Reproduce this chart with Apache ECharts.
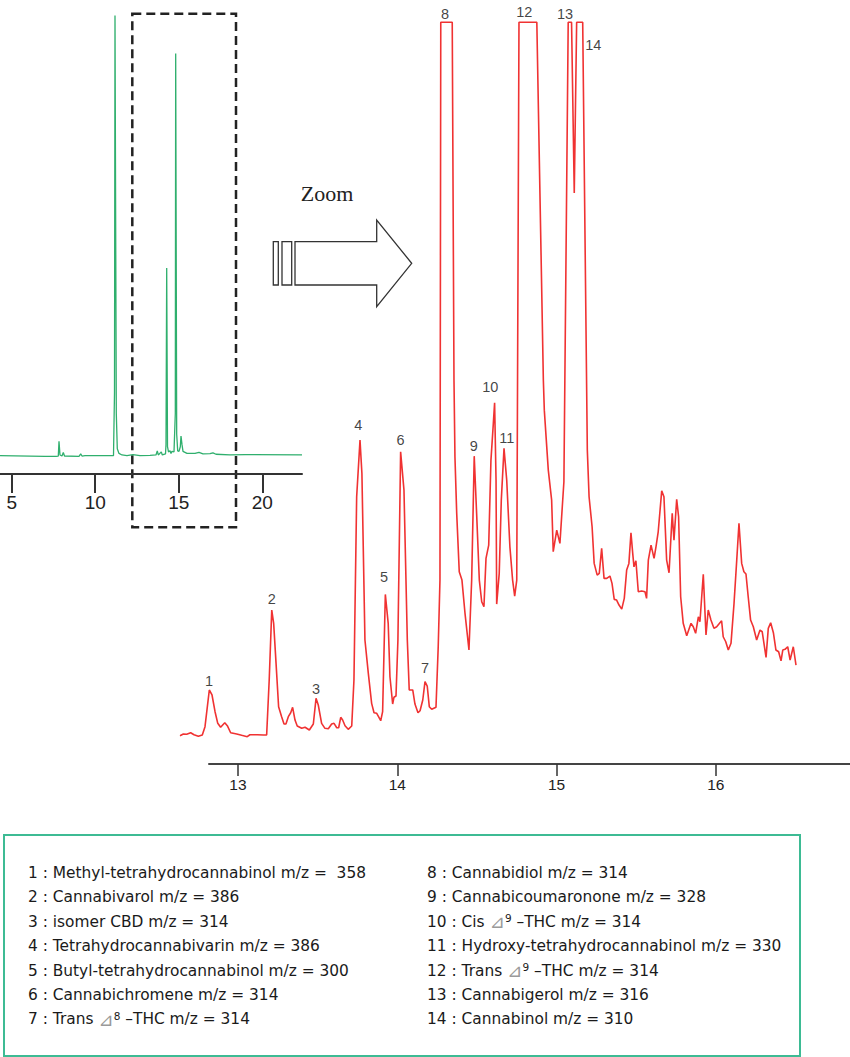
<!DOCTYPE html>
<html><head><meta charset="utf-8">
<script src="https://cdn.jsdelivr.net/npm/echarts@6/dist/echarts.min.js"></script>
<style>html,body{margin:0;padding:0;background:#fff}#c{width:850px;height:1057px}</style>
</head><body><div id="c"></div>
<script>
// ---- full chromatogram (inset, green) ----
const insetTime = [4.300,6.993,7.651,7.789,7.831,7.890,8.010,8.088,8.160,9.028,9.129,9.207,9.388,11.092,11.152,11.182,11.224,11.260,11.319,11.421,11.600,11.899,12.258,12.677,13.276,13.635,13.713,13.773,13.953,14.013,14.204,14.234,14.276,14.324,14.384,14.474,14.533,14.593,14.713,14.791,14.814,14.850,14.874,14.934,15.012,15.090,15.132,15.192,15.252,15.491,15.970,16.209,16.448,16.867,17.047,17.226,18.064,18.962,22.373];
const insetSignal = [3.97,3.83,3.83,3.90,7.13,4.13,3.90,4.65,3.90,3.83,4.35,3.90,3.97,3.97,17.66,100,100,13.15,5.48,4.47,4.13,3.97,4.20,3.97,4.06,4.13,5.03,4.13,4.80,4.13,4.35,6.38,44.89,5.93,4.80,5.03,4.47,4.92,4.80,13.15,91.72,91.72,8.64,5.03,4.92,5.93,8.26,6.38,4.92,4.47,4.47,4.69,4.35,4.42,4.58,4.29,4.13,4.20,4.13];
const insetTicks = [5, 10, 15, 20];

// ---- zoomed chromatogram (red) ----
const zoomTime = [12.636,12.657,12.678,12.703,12.724,12.751,12.776,12.793,12.820,12.837,12.856,12.873,12.891,12.917,12.933,12.954,12.992,13.023,13.058,13.075,13.121,13.159,13.180,13.196,13.212,13.224,13.239,13.255,13.274,13.289,13.301,13.316,13.331,13.343,13.358,13.372,13.400,13.421,13.448,13.473,13.490,13.504,13.525,13.546,13.567,13.588,13.603,13.620,13.632,13.645,13.657,13.672,13.692,13.714,13.728,13.745,13.766,13.778,13.797,13.818,13.839,13.854,13.871,13.896,13.908,13.925,13.943,13.954,13.971,13.979,13.992,14.004,14.021,14.042,14.063,14.075,14.097,14.111,14.130,14.143,14.160,14.174,14.188,14.201,14.216,14.243,14.257,14.268,14.273,14.345,14.356,14.362,14.373,14.389,14.406,14.425,14.450,14.467,14.483,14.498,14.515,14.530,14.544,14.557,14.574,14.588,14.603,14.611,14.620,14.624,14.640,14.653,14.670,14.687,14.707,14.724,14.737,14.750,14.764,14.876,14.917,14.923,14.948,14.969,14.979,15.001,15.021,15.046,15.073,15.094,15.111,15.126,15.164,15.193,15.204,15.223,15.236,15.255,15.268,15.283,15.298,15.315,15.335,15.348,15.362,15.377,15.392,15.409,15.425,15.440,15.454,15.467,15.478,15.486,15.498,15.513,15.534,15.555,15.565,15.576,15.593,15.612,15.624,15.638,15.660,15.674,15.691,15.706,15.726,15.737,15.754,15.766,15.779,15.795,15.817,15.844,15.858,15.873,15.890,15.900,15.921,15.938,15.952,15.969,15.988,16.005,16.036,16.046,16.062,16.078,16.095,16.114,16.131,16.145,16.162,16.176,16.189,16.203,16.218,16.235,16.256,16.277,16.291,16.315,16.329,16.344,16.361,16.377,16.394,16.409,16.420,16.434,16.451,16.466,16.486,16.503];
const zoomSignal = [4.33,4.56,4.52,4.73,4.46,4.25,4.42,5.54,10.46,9.79,7.55,5.99,5.46,6.07,5.67,4.73,4.56,4.38,4.20,4.46,4.46,4.42,4.42,11.80,21.18,19.40,14.03,8.22,6.88,5.90,5.90,6.88,7.41,8.14,6.43,5.63,5.32,5.46,5.09,5.90,9.34,8.45,5.99,5.32,5.27,5.90,5.99,5.40,5.40,6.80,6.43,5.67,5.19,5.63,11.80,36.37,43.97,39.50,17.16,12.73,8.67,7.41,7.33,6.34,7.55,23.28,19.40,12.24,8.58,9.48,9.65,17.16,42.40,37.27,17.16,10.46,10.46,8.58,7.41,7.68,9.12,11.57,10.99,8.22,7.87,8.14,16.26,25.20,100,100,52.01,41.73,34.18,26.31,25.20,20.78,15.82,25.20,41.82,34.18,25.20,22.29,21.62,28.11,29.89,41.29,46.21,48.97,38.61,21.98,26.10,35.92,42.86,38.61,29.66,25.20,23.06,25.20,100,100,52.01,47.99,39.95,35.92,29.00,31.90,30.12,38.38,100,100,77.12,100,100,42.63,36.37,32.35,27.44,25.87,26.10,29.45,25.43,25.43,25.74,24.76,22.61,22.52,21.85,21.31,22.75,26.54,27.44,31.54,28.78,26.98,27.79,23.63,23.73,23.63,22.75,27.88,29.89,28.11,29.66,31.68,37.17,36.37,27.88,26.18,34.14,30.56,36.02,33.69,22.96,19.40,17.73,19.40,18.94,18.06,20.28,19.61,25.97,17.83,21.18,19.84,18.73,18.94,19.75,17.60,16.93,15.82,16.72,22.08,27.88,32.80,27.44,26.31,26.01,22.96,19.84,18.94,17.16,18.50,18.27,14.84,18.73,19.48,18.14,15.82,15.59,14.38,15.82,15.91,16.26,14.48,16.26,13.81];
const zoomTicks = [13, 14, 15, 16];

// ---- peak annotations ----
const peakNo = ['1','2','3','4','5','6','7','8','9','10','11','12','13','14'];
const peakTime = [12.818,13.212,13.490,13.755,13.917,14.021,14.174,14.299,14.481,14.584,14.687,14.797,15.053,15.230];
const peakLevel = [11.70,22.65,10.55,45.98,25.64,43.97,13.44,101.17,43.20,51.03,44.20,101.38,101.17,96.92];

// ---- compound list ----
const compoundNames = ['Methyl-tetrahydrocannabinol','Cannabivarol','isomer CBD','Tetrahydrocannabivarin','Butyl-tetrahydrocannabinol','Cannabichromene','Trans {d|\u22BF}{s|8} \u2013THC','Cannabidiol','Cannabicoumaronone','Cis {d|\u22BF}{s|9} \u2013THC','Hydroxy-tetrahydrocannabinol','Trans {d|\u22BF}{s|9} \u2013THC','Cannabigerol','Cannabinol'];
const compoundMz = ['\u00a0358','386','314','386','300','314','314','314','328','314','330','314','316','310'];

const chart = echarts.init(document.getElementById('c'), null, {renderer: 'svg'});

const legendFont = 'DejaVu Sans';
const legendSize = 15.4;
const legendTexts = compoundNames.map((n, i) => {
  const col = i < 7 ? 0 : 1;
  const row = i % 7;
  return {
    type: 'text',
    x: col === 0 ? 28 : 427,
    y: 873 + row * 24.4,
    style: {
      text: (i + 1) + ' : ' + n + ' m/z = ' + compoundMz[i],
      fill: '#1a1a1a',
      fontFamily: legendFont,
      fontSize: legendSize,
      lineHeight: 20,
      verticalAlign: 'middle',
      align: 'left',
      rich: {
        d: { fill: '#9a9a9a', fontFamily: legendFont, fontSize: legendSize + 3, lineHeight: 20 },
        s: { fill: '#1a1a1a', fontFamily: legendFont, fontSize: 10.5, lineHeight: 20, verticalAlign: 'top', padding: [1, 0, 0, 0] }
      }
    }
  };
});

const hiddenAxis = { show: false, splitLine: { show: false } };

const option = {
  animation: false,
  backgroundColor: '#fff',
  grid: [
    { left: 0, width: 302, top: 15.5, bottom: 583.1 },
    { left: 180, right: 0, top: 22.3, bottom: 293 },
    { left: 209, right: 0, top: 22.3, bottom: 293 }
  ],
  xAxis: [
    { gridIndex: 0, type: 'value', min: 4.30, max: 22.373, splitLine: { show: false },
      axisLine: { onZero: false, lineStyle: { color: '#333', width: 2 } },
      axisTick: { customValues: insetTicks, length: 19, lineStyle: { color: '#333', width: 2 } },
      axisLabel: { customValues: insetTicks, margin: 19, fontSize: 19, fontFamily: 'Liberation Sans', color: '#222' } },
    Object.assign({ gridIndex: 1, type: 'value', min: 12.636, max: 16.842 }, hiddenAxis),
    { gridIndex: 2, type: 'value', min: 12.818, max: 16.842, splitLine: { show: false },
      axisLine: { onZero: false, lineStyle: { color: '#444', width: 2 } },
      axisTick: { customValues: zoomTicks, length: 12, lineStyle: { color: '#333', width: 1.5 } },
      axisLabel: { customValues: zoomTicks, margin: 12, fontSize: 15.5, fontFamily: 'Liberation Sans Narrow, Liberation Sans', color: '#222' } }
  ],
  yAxis: [
    { gridIndex: 0, type: 'value', min: 0, max: 100, show: false },
    { gridIndex: 1, type: 'value', min: 0.536, max: 100, show: false },
    { gridIndex: 2, type: 'value', min: 0.536, max: 100, show: false }
  ],
  series: [
    { type: 'line', xAxisIndex: 0, yAxisIndex: 0, clip: false, symbol: 'none', silent: true,
      lineStyle: { color: '#2faf6d', width: 1.3 },
      data: insetTime.map((t, i) => [t, insetSignal[i]]) },
    { type: 'line', xAxisIndex: 1, yAxisIndex: 1, clip: false, symbol: 'none', silent: true,
      lineStyle: { color: '#f03232', width: 1.6 },
      data: zoomTime.map((t, i) => [t, zoomSignal[i]]) },
    { type: 'scatter', xAxisIndex: 1, yAxisIndex: 1, clip: false, symbolSize: 1, silent: true,
      itemStyle: { color: 'rgba(0,0,0,0)' },
      label: { show: true, position: 'inside', formatter: p => p.data[2],
        fontFamily: 'Liberation Sans', fontSize: 14.5, color: '#111' },
      data: peakTime.map((t, i) => [t, peakLevel[i], peakNo[i]]) }
  ],
  graphic: [
    { type: 'rect', shape: { x: 132.3, y: 13.8, width: 103.7, height: 513.5 },
      style: { fill: 'none', stroke: '#222', lineWidth: 2.5, lineDash: [9, 5] } },
    { type: 'text', x: 327, y: 193,
      style: { text: 'Zoom', fontFamily: 'Liberation Serif', fontSize: 22, fill: '#222', align: 'center', verticalAlign: 'middle' } },
    { type: 'rect', shape: { x: 273.3, y: 241.7, width: 5, height: 43.3 },
      style: { fill: '#fff', stroke: '#333', lineWidth: 1.3 } },
    { type: 'rect', shape: { x: 282, y: 241.7, width: 9.7, height: 43.3 },
      style: { fill: '#fff', stroke: '#333', lineWidth: 1.3 } },
    { type: 'polygon', shape: { points: [[295, 241.7], [376.7, 241.7], [376.7, 220], [411.7, 263.3], [376.7, 306.7], [376.7, 285], [295, 285]] },
      style: { fill: '#fff', stroke: '#333', lineWidth: 1.3 } },
    { type: 'rect', shape: { x: 4, y: 835, width: 796, height: 221 },
      style: { fill: 'none', stroke: '#3dbb94', lineWidth: 2 } }
  ].concat(legendTexts)
};
chart.setOption(option);
</script>
</body></html>
